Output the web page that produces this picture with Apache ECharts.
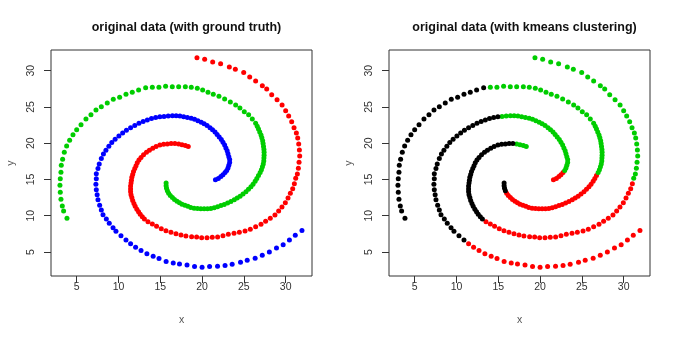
<!DOCTYPE html>
<html>
<head>
<meta charset="utf-8">
<script src="https://cdn.jsdelivr.net/npm/echarts@6/dist/echarts.min.js"></script>
<style>html,body{margin:0;padding:0;background:#fff}#c{width:676px;height:338px}</style>
</head>
<body>
<div id="c"></div>
<script>
// ---- data ----
const titles = ['original data (with ground truth)', 'original data (with kmeans clustering)'];
const xTicks = [5, 10, 15, 20, 25, 30];
const yTicks = [5, 10, 15, 20, 25, 30];

// ground-truth arm drawn in blue
const blueArm = [
[31.95,7.95],[31.15,7.3],[30.45,6.65],[29.7,6],[28.9,5.55],[28.05,5],[27.2,4.55],[26.35,4.15],[25.4,3.85],[24.6,3.6],
[23.6,3.3],[22.75,3.15],[21.85,3.05],[20.9,3],[20,2.9],[19.1,3],[18.2,3.2],[17.3,3.35],[16.55,3.5],[15.7,3.7],
[14.85,4.1],[14.15,4.4],[13.4,4.75],[12.7,5.2],[12.05,5.65],[11.45,6.15],[10.9,6.65],[10.3,7.25],[9.7,7.85],[9.35,8.35],
[8.9,8.95],[8.55,9.55],[8.15,10.15],[7.95,10.8],[7.75,11.45],[7.55,12.2],[7.45,12.9],[7.35,13.6],[7.3,14.35],[7.35,15.1],
[7.35,15.8],[7.55,16.5],[7.7,17.15],[7.95,17.9],
[8.2,18.5],[8.5,19.05],[8.85,19.6],[9.2,20.1],[9.6,20.55],[10.05,21.0],[10.5,21.4],[10.95,21.8],[11.45,22.15],[11.95,22.45],
[12.45,22.75],[12.95,23.0],[13.45,23.2],[13.95,23.4],[14.45,23.55],[14.95,23.65],
[15.45,23.7],[15.95,23.75],[16.45,23.8],[16.9,23.8],[17.35,23.75],[17.8,23.65],[18.25,23.55],[18.7,23.45],[19.1,23.3],[19.5,23.1],
[19.9,22.9],[20.25,22.7],[20.6,22.45],[20.95,22.15],[21.25,21.85],[21.55,21.55],[21.8,21.2],[22.05,20.85],[22.3,20.5],[22.5,20.15],
[22.7,19.75],[22.85,19.35],[23.0,18.95],[23.1,18.55],[23.2,18.15],[23.3,17.75],[23.3,17.35],[23.2,16.95],[23.1,16.6],[22.95,16.25],
[22.75,15.95],[22.5,15.65],[22.25,15.4],[21.95,15.15],[21.6,14.95]
];
// ground-truth arm drawn in green
const greenArm = [
[3.84,9.64],[3.44,10.66],[3.28,11.34],[3.12,12.26],[3.04,13.23],[3.0,14.2],[3.04,15.1],[3.12,15.99],[3.16,16.95],[3.32,17.78],
[3.52,18.75],[3.8,19.62],[4.16,20.4],[4.56,21.18],[5.0,21.87],[5.52,22.56],[6.11,23.34],[6.71,23.94],[7.31,24.59],[7.95,25.05],
[8.66,25.55],[9.38,26.06],[10.14,26.33],[10.9,26.75],[11.65,27.02],[12.41,27.34],[13.25,27.67],
[14.05,27.71],[14.84,27.71],[15.64,27.85],[16.44,27.8],[17.2,27.8],[18.0,27.8],[18.71,27.71],[19.43,27.57],[20.07,27.34],[20.71,27.02],
[21.34,26.75],[22.02,26.47],[22.7,26.1],[23.38,25.69],[24.02,25.28],[24.53,24.86],[25.05,24.36],[25.57,23.94],[26.01,23.34],
[26.41,22.75],[26.6,22.35],[26.75,21.95],[26.9,21.55],[27.05,21.15],[27.15,20.75],[27.25,20.35],[27.3,19.95],[27.35,19.55],[27.4,19.15],
[27.42,18.75],[27.42,18.35],[27.4,17.95],[27.38,17.55],[27.32,17.15],[27.22,16.75],[27.1,16.35],[26.95,15.95],
[26.75,15.55],[26.55,15.15],[26.35,14.75],[26.1,14.35],[25.85,14.0],[25.55,13.65],[25.25,13.3],[24.9,13.0],[24.55,12.7],[24.2,12.45],
[23.85,12.2],[23.45,11.95],[23.05,11.75],[22.65,11.55],[22.25,11.4],[21.85,11.25],[21.45,11.1],[21.05,11.0],[20.65,10.95],[20.25,10.95],
[19.85,10.95],[19.45,11.0],[19.05,11.05],[18.65,11.15],[18.3,11.3],[17.95,11.45],[17.6,11.6],[17.3,11.8],[17.0,12.0],[16.7,12.25],
[16.45,12.5],[16.2,12.8],[16.0,13.1],
[15.85,13.45],[15.75,13.8],[15.7,14.15],[15.7,14.5]
];
// ground-truth arm drawn in red
const redArm = [
[19.39,31.8],[20.31,31.57],[21.27,31.2],[22.22,30.98],[23.26,30.52],[23.98,30.2],[24.98,29.74],[25.7,29.14],[26.41,28.59],[27.21,27.94],
[27.73,27.48],[28.33,26.7],[28.97,26.01],[29.57,25.28],[30.0,24.49],[30.36,23.76],[30.72,22.98],[31.0,22.15],[31.28,21.41],[31.44,20.72],
[31.56,19.9],[31.64,19.07],[31.68,18.24],[31.6,17.37],[31.52,16.54],[31.4,15.76],[31.2,15.16],
[31.04,14.43],[30.84,13.74],[30.56,13.09],[30.28,12.45],[29.96,11.8],[29.56,11.21],[29.16,10.66],[28.72,10.1],[28.16,9.64],[27.6,9.23],
[27.05,8.82],[26.41,8.49],[25.77,8.13],[25.14,7.9],[24.46,7.71],[23.82,7.57],[23.14,7.44],[22.5,7.25],[21.86,7.07],[21.22,7.02],
[20.59,6.98],[19.95,6.98],[19.35,7.07],[18.75,7.11],[18.07,7.21],[17.48,7.34],[16.88,7.53],[16.28,7.71],[15.68,7.94],[15.12,8.22],
[14.56,8.54],[14.05,8.86],[13.53,9.18],
[13.1,9.55],[12.85,9.85],[12.6,10.2],[12.4,10.55],[12.2,10.9],[12.0,11.3],[11.85,11.7],[11.7,12.1],[11.6,12.5],[11.5,12.9],
[11.45,13.3],[11.45,13.7],[11.45,14.1],[11.5,14.5],[11.55,14.9],[11.6,15.3],[11.7,15.7],[11.8,16.1],[11.95,16.5],[12.1,16.9],
[12.25,17.3],[12.45,17.7],[12.7,18.05],[13.0,18.4],[13.35,18.75],[13.7,19.05],[14.1,19.3],[14.5,19.55],[14.95,19.75],[15.4,19.85],
[15.85,19.9],[16.3,19.95],[16.75,19.95],
[17.2,19.9],[17.6,19.8],[18.0,19.7],[18.35,19.55]
];
// kmeans cluster of each point, as runs along each arm (r = red, g = green, k = black)
const blueArmClusters  = [['r',26],['k',34],['g',30],['r',5]];
const greenArmClusters = [['k',27],['g',37],['r',33],['k',4]];
const redArmClusters   = [['g',27],['r',33],['k',33],['g',4]];

// ---- styling ----
const COL = {blue:'#0000FF', green:'#00CD00', red:'#FF0000', black:'#000000'};
const FONT = '"Liberation Sans", Arial, sans-serif';
const SYM = 5;

function expand(runs){ const out=[]; runs.forEach(([c,n])=>{for(let i=0;i<n;i++) out.push(c);}); return out; }
const clusterPts = {r:[], g:[], k:[]};
[[blueArm,blueArmClusters],[greenArm,greenArmClusters],[redArm,redArmClusters]].forEach(([arm,runs])=>{
  const lab = expand(runs);
  arm.forEach((p,i)=>{ clusterPts[lab[i]].push(p); });
});

const panelX = [0, 338];
const grids = panelX.map(ox => ({left: ox+51, top: 50, width: 261, height: 226, show: true,
  borderColor: '#333', borderWidth: 1, backgroundColor: 'transparent'}));
const XMIN = 1.93, XMAX = 33.15, YMIN = 1.69, YMAX = 32.86;
const xAxes = panelX.map((ox,i)=>({gridIndex:i, type:'value', min:XMIN, max:XMAX,
  axisLine:{show:false}, splitLine:{show:false},
  axisTick:{show:true, length:7, customValues:xTicks, lineStyle:{color:'#333'}},
  axisLabel:{customValues:xTicks, fontSize:10.5, color:'#333', margin:6, fontFamily:FONT},
  name:'x', nameLocation:'middle', nameGap:39, nameTextStyle:{fontSize:10.5, color:'#555', fontFamily:FONT}}));
const yAxes = panelX.map((ox,i)=>({gridIndex:i, type:'value', min:YMIN, max:YMAX,
  axisLine:{show:false}, splitLine:{show:false},
  axisTick:{show:true, length:7, customValues:yTicks, lineStyle:{color:'#333'}},
  axisLabel:{customValues:yTicks, fontSize:10.5, color:'#333', margin:14, rotate:90, fontFamily:FONT},
  name:'y', nameLocation:'middle', nameGap:34, nameRotate:90, nameTextStyle:{fontSize:10.5, color:'#555', fontFamily:FONT}}));

function sc(idx, data, color){ return {type:'scatter', xAxisIndex:idx, yAxisIndex:idx, data, symbol:'circle', symbolSize:SYM,
  itemStyle:{color, opacity:1}, silent:true, animation:false}; }

const chart = echarts.init(document.getElementById('c'), null, {renderer:'canvas'});
chart.setOption({
  animation:false,
  backgroundColor:'#fff',
  title: titles.map((t,i)=>({text:t, left: panelX[i]+181.5, top: 16, textAlign:'center',
    textStyle:{fontSize:12.5, fontWeight:'bold', color:'#111', fontFamily:FONT}})),
  grid: grids, xAxis: xAxes, yAxis: yAxes,
  series: [
    sc(0, redArm, COL.red), sc(0, greenArm, COL.green), sc(0, blueArm, COL.blue),
    sc(1, clusterPts.r, COL.red), sc(1, clusterPts.g, COL.green), sc(1, clusterPts.k, COL.black)
  ]
});
</script>
</body>
</html>
